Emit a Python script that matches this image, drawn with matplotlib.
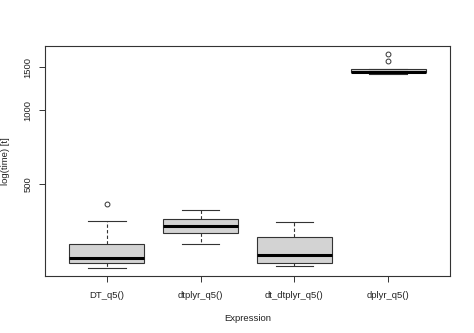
import matplotlib
matplotlib.use("Agg")
import matplotlib.pyplot as plt

plt.rcParams['font.family'] = ['Liberation Sans', 'DejaVu Sans']

# Benchmark timings per expression (five-number summaries + outliers)
expressions = ["DT_q5()", "dtplyr_q5()", "dt_dtplyr_q5()", "dplyr_q5()"]
whisker_low = [228, 286, 231, 1405]
q1 = [239, 316, 237.5, 1428]
medians = [249.5, 339, 257, 1435]
q3 = [285, 360, 304, 1468]
whisker_high = [354, 392, 351, 1476]
outliers = [[413], [], [], [1698, 1589]]

y_ticks = [500, 1000, 1500]

stats = []
for i, name in enumerate(expressions):
    stats.append(dict(label=name, whislo=whisker_low[i], q1=q1[i], med=medians[i],
                      q3=q3[i], whishi=whisker_high[i], fliers=outliers[i]))

fig = plt.figure(figsize=(4.74, 3.33), dpi=100)
ax = fig.add_axes([45 / 474, 1 - 276 / 333, 405 / 474, 230 / 333])

ax.bxp(stats, positions=[1, 2, 3, 4], widths=0.8, patch_artist=True,
       boxprops=dict(facecolor="#D3D3D3", edgecolor="#333333", linewidth=0.8),
       medianprops=dict(color="black", linewidth=2.2, solid_capstyle="butt"),
       whiskerprops=dict(color="#333333", linewidth=0.8, linestyle=(0, (3, 2))),
       capprops=dict(color="#333333", linewidth=0.8),
       capwidths=0.4,
       flierprops=dict(marker="o", markersize=3.5, markerfacecolor="none",
                       markeredgecolor="#333333", markeredgewidth=0.7))

ax.set_yscale("log")
ax.set_ylim(211, 1829)
ax.set_xlim(0.34, 4.66)
ax.set_yticks(y_ticks)
ax.set_yticklabels([str(t) for t in y_ticks], rotation=90, va="center")
ax.yaxis.set_minor_locator(matplotlib.ticker.NullLocator())
ax.set_xticks([1, 2, 3, 4])
ax.set_xticklabels(expressions)

ax.tick_params(axis="both", labelsize=6.8, length=4, width=0.7, color="#333333",
               labelcolor="#222222")
ax.tick_params(axis="y", pad=5)
ax.tick_params(axis="x", pad=7)

for s in ax.spines.values():
    s.set_linewidth(0.8)
    s.set_color("#333333")

ax.set_xlabel("Expression", fontsize=6.8, color="#222222", labelpad=10)
ax.set_ylabel("log(time) [t]", fontsize=6.8, color="#222222", labelpad=10)

fig.savefig("out.png", dpi=100)
